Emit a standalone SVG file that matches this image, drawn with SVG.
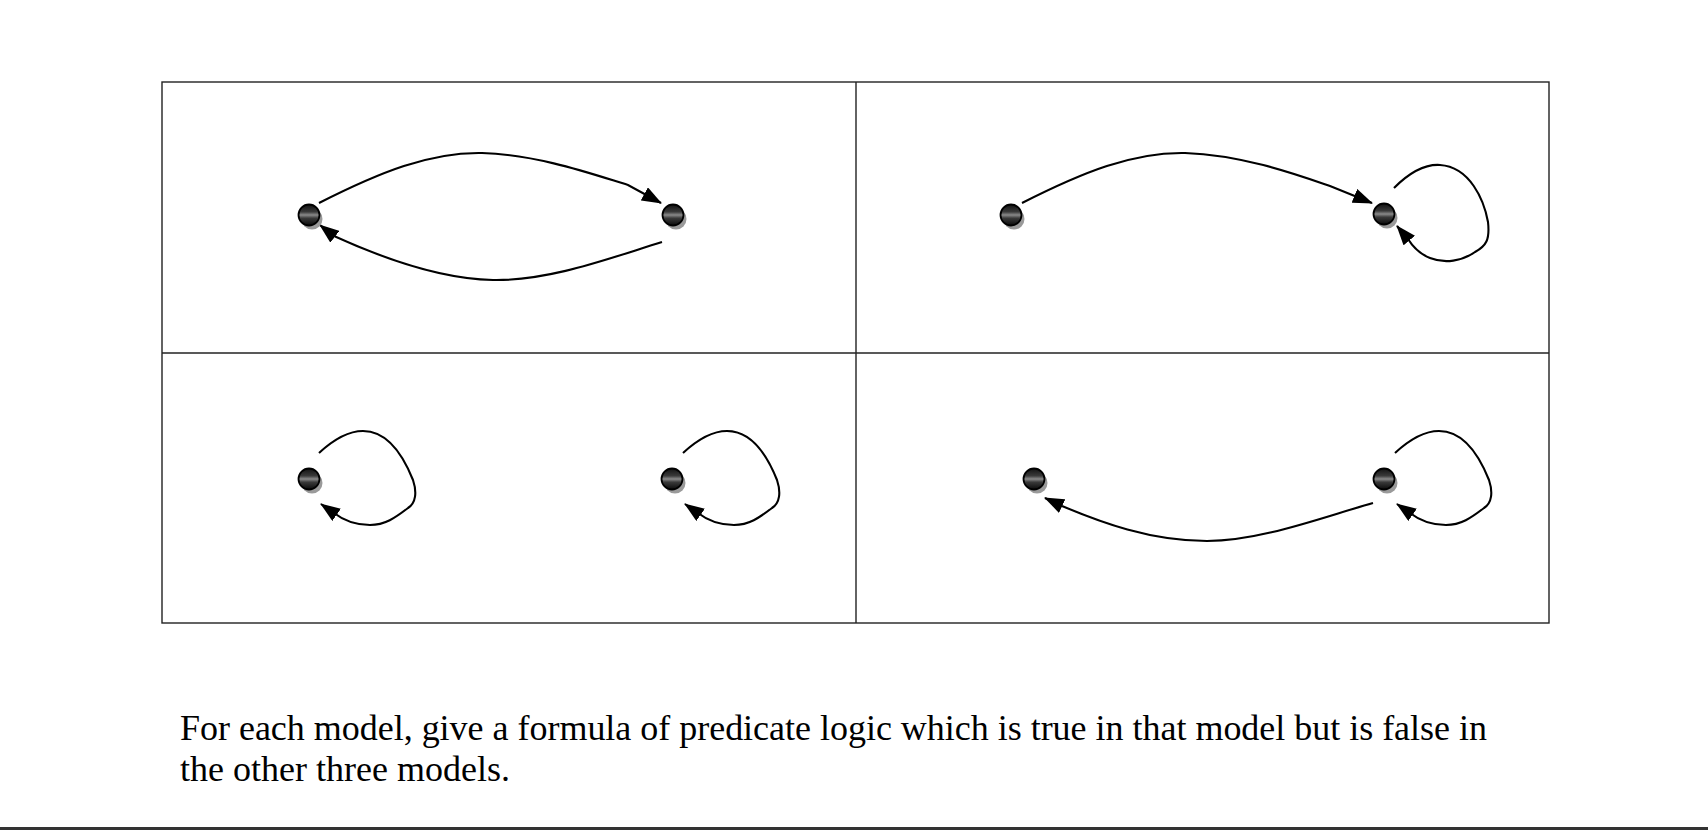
<svg xmlns="http://www.w3.org/2000/svg" width="1708" height="830" viewBox="0 0 1708 830">
<style>
.frame{fill:none;stroke:#222;stroke-width:1.4}
.edge{fill:none;stroke:#000;stroke-width:2.1}
.nb{stroke:#000;stroke-width:1.8;fill:url(#ball)}
.ns{fill:#9a9a9a}
.txt{font-family:"Liberation Serif","Times New Roman",serif;font-size:36px;fill:#000}
</style>
<defs>
<linearGradient id="ball" x1="0" y1="0" x2="0" y2="1">
<stop offset="0" stop-color="#111"/>
<stop offset="0.35" stop-color="#3a3a3a"/>
<stop offset="0.5" stop-color="#8a8a8a"/>
<stop offset="0.65" stop-color="#3a3a3a"/>
<stop offset="1" stop-color="#0a0a0a"/>
</linearGradient>
<marker id="arr" viewBox="0 0 20 15" markerWidth="20" markerHeight="15" refX="19" refY="7.5" orient="auto" markerUnits="userSpaceOnUse">
<path d="M0,0 L20,7.5 L0,15 z" fill="#000"/>
</marker>
</defs>
<rect width="1708" height="830" fill="#fff"/>
<g id="frame">
<rect class="frame" x="162" y="82" width="1387" height="541"/>
<line class="frame" x1="856" y1="82" x2="856" y2="623"/>
<line class="frame" x1="162" y1="353" x2="1549" y2="353"/>
</g>
<g id="connectors">
<path class="edge" marker-end="url(#arr)" d="M319,203 C380,172 430,152 482,153 C540,155 595,175 628,185 L661,203"/>
<path class="edge" marker-end="url(#arr)" d="M662,242 C610,258 550,281 493,280 C440,279 380,257 334,236 L320,225"/>
<path class="edge" marker-end="url(#arr)" d="M1022,203 C1083,172 1133,152 1185,153 C1243,155 1298,175 1330,186 L1372,203"/>
<path class="edge" marker-end="url(#arr)" d="M1394,188 C1410,172 1425,164 1440,165 C1470,167 1484,200 1488,222 C1490,240 1486,246 1475,252 C1462,261 1445,264 1430,258 C1420,254 1413,247 1408,239 L1397,226"/>
<path class="edge" marker-end="url(#arr)" d="M319,453 C333,440 348,431 363,431 C390,431 405,460 413,480 C417,492 416,503 408,508 C395,518 385,525 370,525 C355,525 343,520 334,513 L321,504"/>
<path class="edge" marker-end="url(#arr)" d="M683,453 C697,440 712,431 727,431 C754,431 769,460 777,480 C781,492 780,503 772,508 C759,518 749,525 734,525 C719,525 707,520 698,513 L685,504"/>
<path class="edge" marker-end="url(#arr)" d="M1395,453 C1409,440 1424,431 1439,431 C1466,431 1481,460 1489,480 C1493,492 1492,503 1484,508 C1471,518 1461,525 1446,525 C1431,525 1419,520 1410,513 L1397,504"/>
<path class="edge" marker-end="url(#arr)" d="M1373,503 C1320,518 1260,541 1207,541 C1150,541 1100,522 1062,506 L1045,498"/>
</g>
<g id="n1"><circle class="ns" cx="312" cy="219" r="10.5"/><circle class="nb" cx="309" cy="215" r="10.5"/></g>
<g id="n2"><circle class="ns" cx="676" cy="219" r="10.5"/><circle class="nb" cx="673" cy="215" r="10.5"/></g>
<g id="n3"><circle class="ns" cx="1014" cy="219" r="10.5"/><circle class="nb" cx="1011" cy="215" r="10.5"/></g>
<g id="n4"><circle class="ns" cx="1387" cy="218" r="10.5"/><circle class="nb" cx="1384" cy="214" r="10.5"/></g>
<g id="n5"><circle class="ns" cx="312" cy="483" r="10.5"/><circle class="nb" cx="309" cy="479" r="10.5"/></g>
<g id="n6"><circle class="ns" cx="675" cy="483" r="10.5"/><circle class="nb" cx="672" cy="479" r="10.5"/></g>
<g id="n7"><circle class="ns" cx="1037" cy="483" r="10.5"/><circle class="nb" cx="1034" cy="479" r="10.5"/></g>
<g id="n8"><circle class="ns" cx="1387" cy="483" r="10.5"/><circle class="nb" cx="1384" cy="479" r="10.5"/></g>
<g id="caption">
<text class="txt" x="180" y="740" textLength="1307" lengthAdjust="spacing">For each model, give a formula of predicate logic which is true in that model but is false in</text>
<text class="txt" x="180" y="781">the other three models.</text>
</g>
<rect x="0" y="827" width="1708" height="3" fill="#333"/>
</svg>
